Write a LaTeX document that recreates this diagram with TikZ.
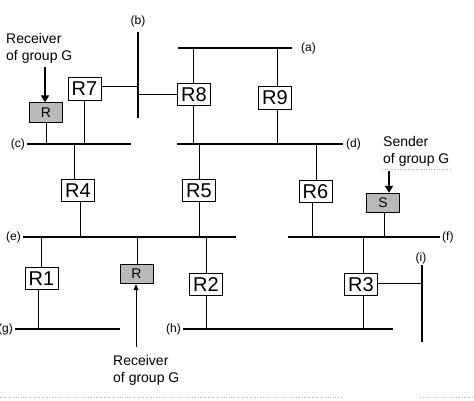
\documentclass[tikz,border=0pt]{standalone}
\usepackage{fontspec}
\setmainfont{Liberation Sans}
\usetikzlibrary{arrows.meta}
\begin{document}
\begin{tikzpicture}[x=1pt,y=-1pt,
  bus/.style={line width=2.6pt},
  link/.style={line width=1pt},
  router/.style={draw,line width=0.9pt,fill=white,inner sep=0pt,minimum width=33pt,minimum height=22.5pt,font=\fontsize{20}{20}\selectfont},
  member/.style={draw,line width=0.9pt,fill=gray!55,inner sep=0pt,minimum width=33pt,minimum height=19.5pt,font=\fontsize{14}{14}\selectfont},
  buslabel/.style={inner sep=1pt,font=\fontsize{12}{12}\selectfont},
  note/.style={align=left,inner sep=0pt,font=\fontsize{14}{17}\selectfont},
  bigarrow/.style={line width=2.6pt,-{Triangle[length=7pt,width=8pt]}},
  faint/.style={gray!60,dotted,line width=0.6pt}]
\useasboundingbox (0,0) rectangle (474,401);
% bus end points
\coordinate (a1) at (178,48);  \coordinate (a2) at (292,48);
\coordinate (b1) at (138,32);  \coordinate (b2) at (138,118);
\coordinate (c1) at (27,144);  \coordinate (c2) at (131,144);
\coordinate (d1) at (177,144); \coordinate (d2) at (343,144);
\coordinate (e1) at (23,237);  \coordinate (e2) at (236,237);
\coordinate (f1) at (288,237); \coordinate (f2) at (440,237);
\coordinate (g1) at (15,329);  \coordinate (g2) at (120,329);
\coordinate (h1) at (183,329); \coordinate (h2) at (393,329);
\coordinate (i1) at (422,265); \coordinate (i2) at (422,342);
\draw[bus] (a1) -- (a2); \draw[bus] (b1) -- (b2); \draw[bus] (c1) -- (c2);
\draw[bus] (d1) -- (d2); \draw[bus] (e1) -- (e2); \draw[bus] (f1) -- (f2);
\draw[bus] (g1) -- (g2); \draw[bus] (h1) -- (h2); \draw[bus] (i1) -- (i2);
% bus labels
\node[buslabel,anchor=west] (la) at (300,48) {(a)};
\node[buslabel,anchor=north] (lb) at (138,15) {(b)};
\node[buslabel,anchor=east] (lc) at (26,144) {(c)};
\node[buslabel,anchor=west] (ld) at (345,144) {(d)};
\node[buslabel,anchor=east] (le) at (22,237) {(e)};
\node[buslabel,anchor=west] (lf) at (441,237) {(f)};
\node[buslabel,anchor=east] (lg) at (14,329) {(g)};
\node[buslabel,anchor=east] (lh) at (182,329) {(h)};
\node[buslabel,anchor=south] (li) at (421,265) {(i)};
% routers
\node[router] (R7) at (84.5,89) {R7};
\node[router] (R8) at (194,94.5) {R8};
\node[router] (R9) at (275,98) {R9};
\node[router] (R4) at (78,190.5) {R4};
\node[router] (R5) at (199,190.5) {R5};
\node[router] (R6) at (315.5,191.5) {R6};
\node[router] (R1) at (41.5,278.5) {R1};
\node[router] (R2) at (206,284.5) {R2};
\node[router] (R3) at (361,284.5) {R3};
\node[member] (Rtop) at (46,112.5) {R};
\node[member] (Rbot) at (136.5,274) {R};
\node[member] (S) at (383,203) {S};
% connectors
\coordinate (busc) at (0,144); \coordinate (busd) at (0,144);
\coordinate (buse) at (0,237); \coordinate (busf) at (0,237);
\coordinate (busg) at (0,329); \coordinate (bush) at (0,329);
\coordinate (busa) at (0,48);  \coordinate (busb) at (138,0);
\draw[link] (Rtop) -- (Rtop |- busc);
\draw[link] (R7) -- (R7 |- busc);
\draw[link] (R7.east |- 0,87) -- (busb |- 0,87);
\draw[link] (R8.west) -- (busb |- R8.west);
\draw[link] (193,0 |- R8.north) -- (193,48);
\draw[link] (193,0 |- R8.south) -- (193,144);
\draw[link] (277,0 |- R9.north) -- (277,48);
\draw[link] (277,0 |- R9.south) -- (277,144);
\draw[link] (74,0 |- R4.north) -- (74,144);
\draw[link] (80,0 |- R4.south) -- (80,237);
\draw[link] (R5) -- (R5 |- busd);
\draw[link] (R5) -- (R5 |- buse);
\draw[link] (316,0 |- R6.north) -- (316,144);
\draw[link] (312,0 |- R6.south) -- (312,237);
\draw[link] (384,0 |- S.south) -- (384,237);
\draw[link] (41,0 |- R1.north) -- (41,237);
\draw[link] (38,0 |- R1.south) -- (38,329);
\draw[link] (137,0 |- Rbot.north) -- (137,237);
\draw[link] (R2) -- (R2 |- buse);
\draw[link] (R2) -- (R2 |- bush);
\draw[link] (363,0 |- R3.north) -- (363,237);
\draw[link] (363,0 |- R3.south) -- (363,329);
\draw[link] (R3.east |- 0,283) -- (422,283);
% group member notes
\node[note,anchor=north west] (n1) at (6,33) {Receiver\\of group G};
\coordinate (n1a) at (45,67);
\draw[bigarrow] (n1a) -- (Rtop.north -| n1a);
\node[note,anchor=north west] (n2) at (383,136) {Sender\\of group G};
\coordinate (n2a) at (389,171);
\draw[bigarrow] (n2a) -- (S.north -| n2a);
\node[note,anchor=north west] (n3) at (113,355) {Receiver\\of group G};
\coordinate (n3a) at (136,347);
\draw[line width=1pt,-{Triangle[length=6pt,width=5pt]}] (n3a) -- (Rbot.south -| n3a);
% faint scan marks
\draw[faint] (382,169) -- (452,169);
\draw[faint] (0,397) -- (343,397);
\draw[faint] (420,397) -- (474,397);
\end{tikzpicture}
\end{document}
